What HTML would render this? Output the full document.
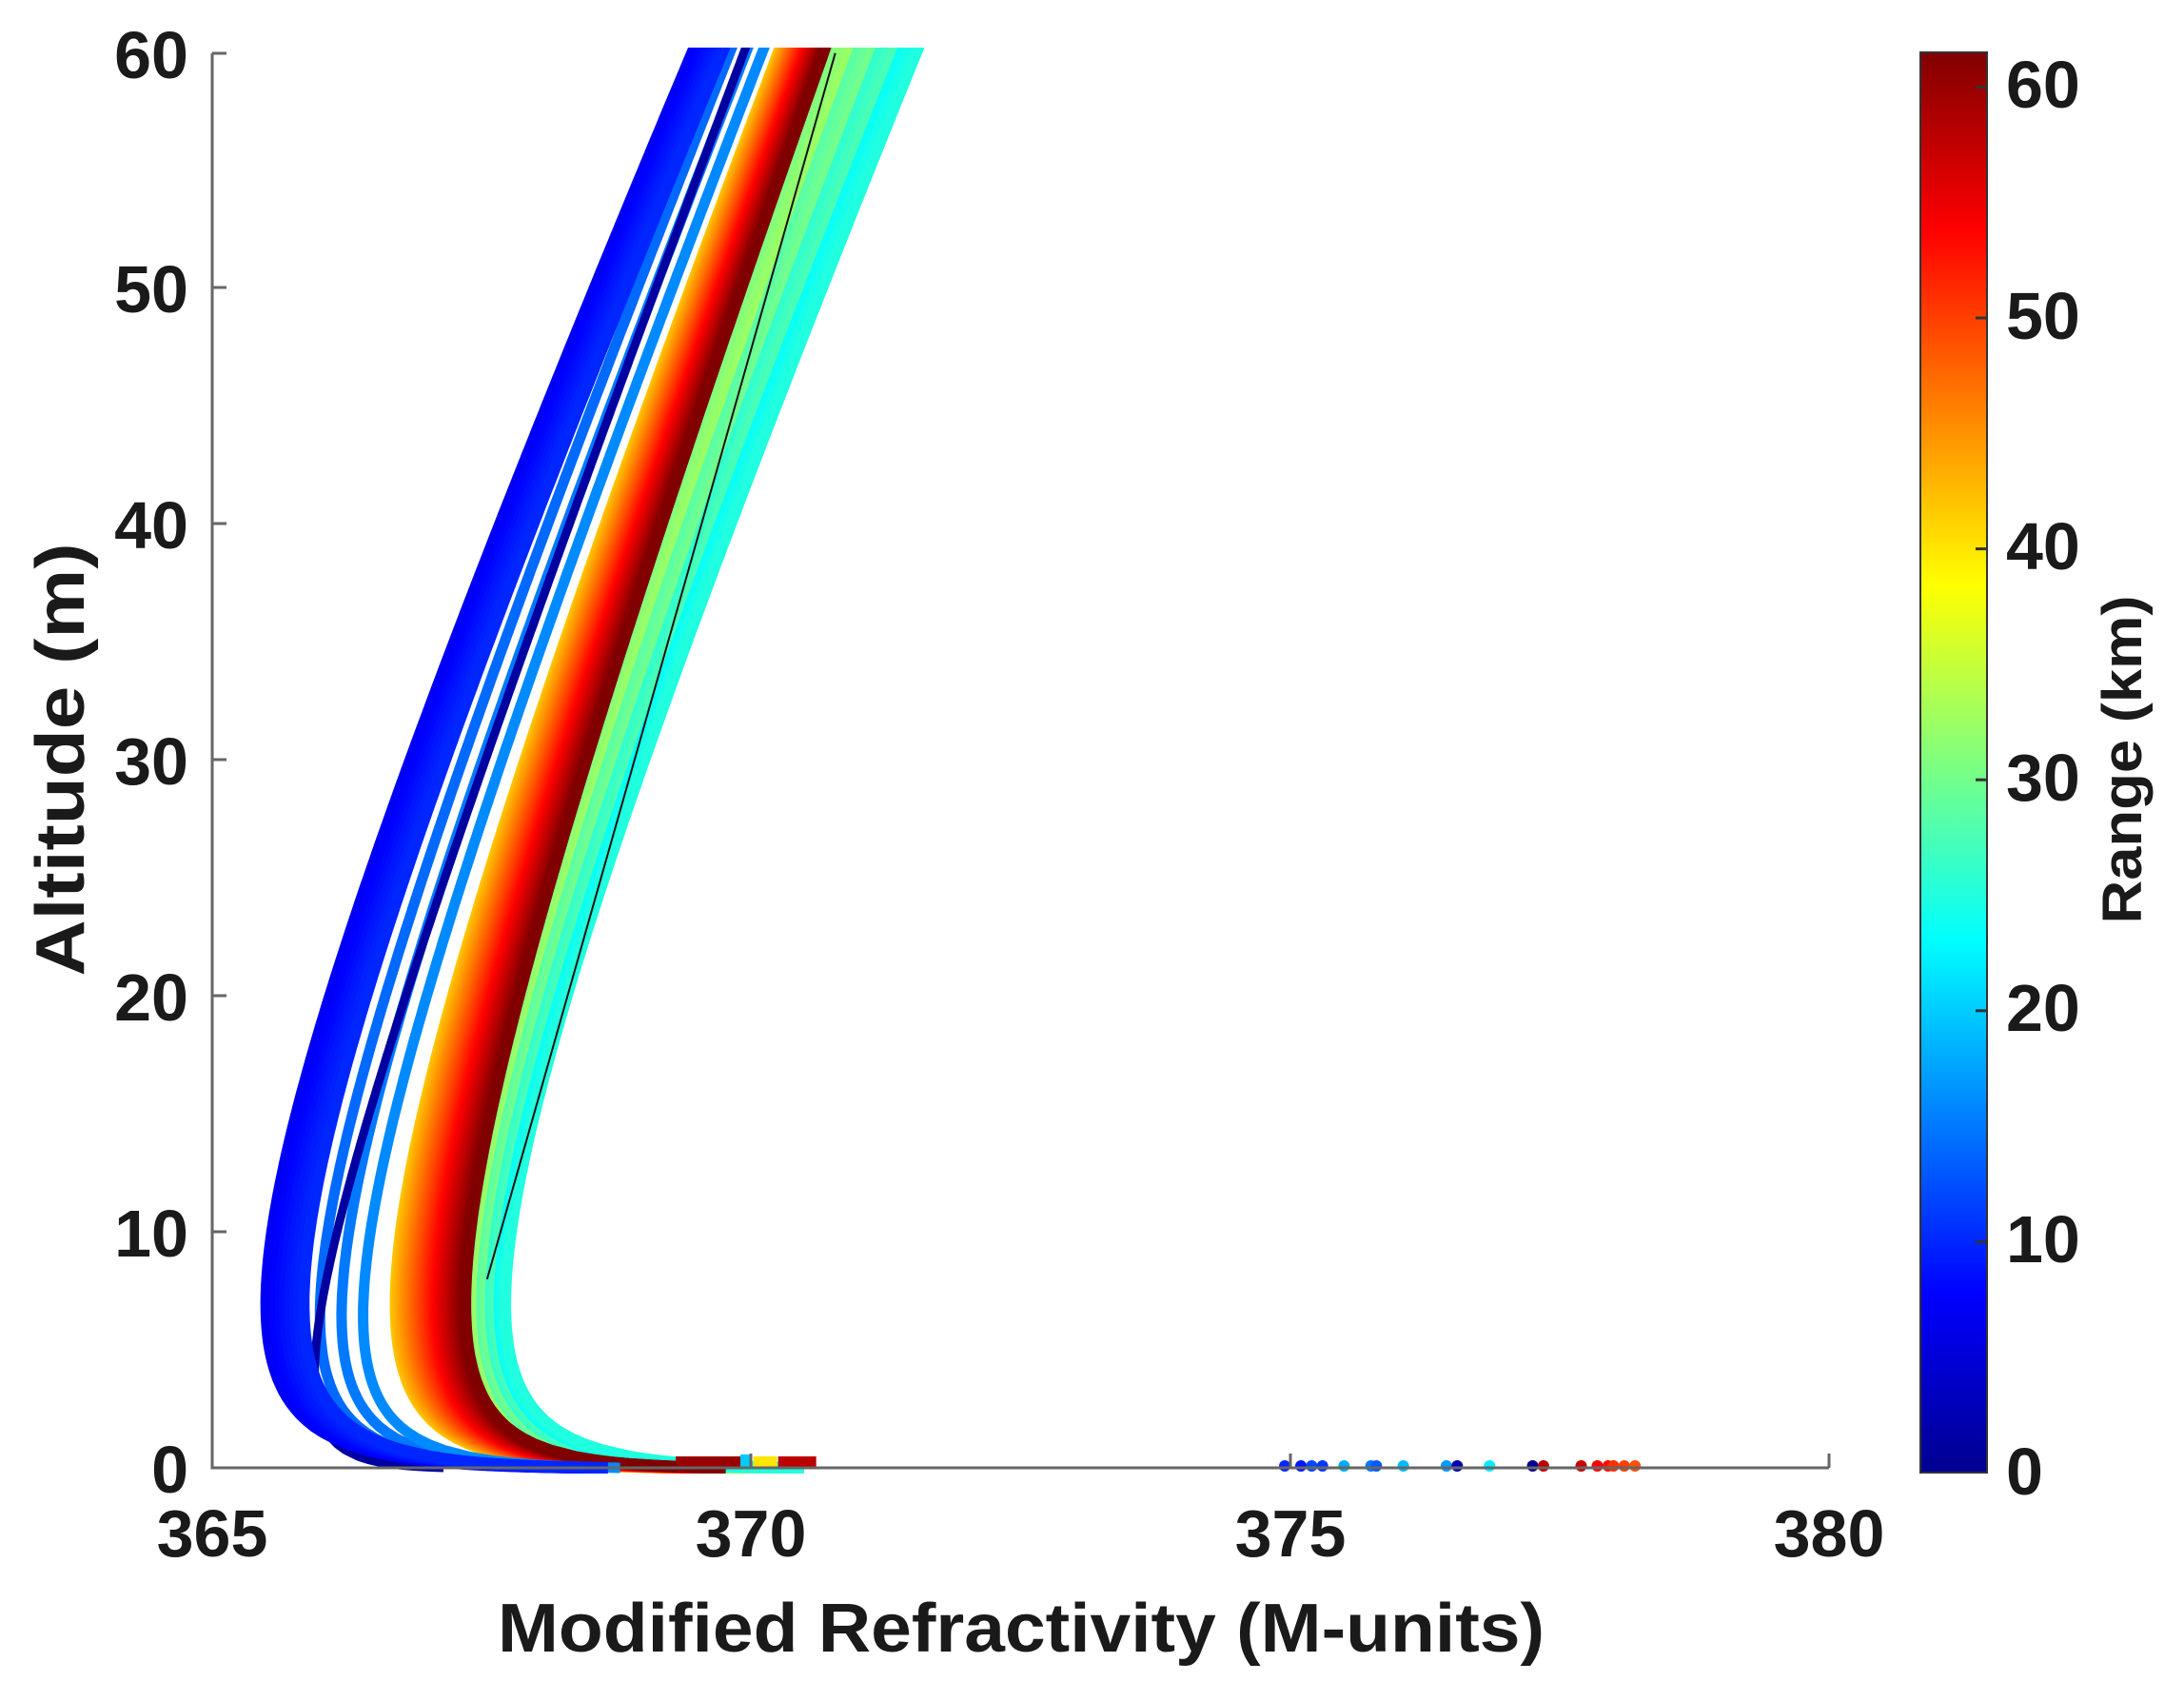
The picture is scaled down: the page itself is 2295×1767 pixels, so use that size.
<!DOCTYPE html>
<html><head><meta charset="utf-8"><style>
html,body{margin:0;padding:0;background:#fff}
svg{display:block}
text{font-family:"Liberation Sans",Arial,sans-serif;font-weight:bold;fill:#1a1a1a}
</style></head><body>
<svg id="s" width="2295" height="1767" viewBox="0 0 2295 1767" xmlns="http://www.w3.org/2000/svg">
<defs>
<linearGradient id="jet" x1="0" y1="1" x2="0" y2="0">
<stop offset="0" stop-color="#00008f"/>
<stop offset="0.125" stop-color="#0000ff"/>
<stop offset="0.375" stop-color="#00ffff"/>
<stop offset="0.625" stop-color="#ffff00"/>
<stop offset="0.875" stop-color="#ff0000"/>
<stop offset="1" stop-color="#800000"/>
</linearGradient>
<clipPath id="cp"><rect x="223" y="50" width="1700" height="1500"/></clipPath>
</defs>
<g id="curves" clip-path="url(#cp)"></g>
<g id="dots"></g>
<path d="M223,56 V1542 H1922" fill="none" stroke="#666" stroke-width="3"/>
<g stroke="#666" stroke-width="3">
<line x1="223" y1="56" x2="238" y2="56"/><line x1="223" y1="302" x2="238" y2="302"/>
<line x1="223" y1="550" x2="238" y2="550"/><line x1="223" y1="798" x2="238" y2="798"/>
<line x1="223" y1="1046" x2="238" y2="1046"/><line x1="223" y1="1294" x2="238" y2="1294"/>
<line x1="789" y1="1542" x2="789" y2="1527"/><line x1="1356" y1="1542" x2="1356" y2="1527"/>
<line x1="1922" y1="1542" x2="1922" y2="1527"/>
</g>
<g font-size="70" text-anchor="end">
<text x="198" y="82">60</text><text x="198" y="328">50</text><text x="198" y="576">40</text>
<text x="198" y="824">30</text><text x="198" y="1072">20</text><text x="198" y="1320">10</text>
<text x="198" y="1568">0</text>
</g>
<g font-size="70" text-anchor="middle">
<text x="223" y="1635">365</text><text x="789" y="1635">370</text>
<text x="1356" y="1635">375</text><text x="1922" y="1635">380</text>
</g>
<text x="1073" y="1735" font-size="72" text-anchor="middle" textLength="1100" lengthAdjust="spacingAndGlyphs">Modified Refractivity (M-units)</text>
<text transform="translate(88,798) rotate(-90)" font-size="72" text-anchor="middle" textLength="455" lengthAdjust="spacingAndGlyphs">Altitude (m)</text>
<rect x="2018" y="55" width="70" height="1492" fill="url(#jet)" stroke="#333" stroke-width="2"/>
<g stroke="#333" stroke-width="3" id="cbt"></g>
<g font-size="70">
<text x="2108" y="113">60</text><text x="2108" y="356">50</text><text x="2108" y="598">40</text>
<text x="2108" y="841">30</text><text x="2108" y="1083">20</text><text x="2108" y="1326">10</text>
<text x="2108" y="1570">0</text>
</g>
<text transform="translate(2250,798) rotate(-90)" font-size="58" text-anchor="middle" textLength="345" lengthAdjust="spacingAndGlyphs">Range (km)</text>
</svg>
<script>
function jet(v){
  var t=v/61.5, r,g,b;
  function cl(x){return Math.max(0,Math.min(1,x));}
  r=cl(Math.min(4*t-1.5,-4*t+4.5)); g=cl(Math.min(4*t-0.5,-4*t+3.5)); b=cl(Math.min(4*t+0.5,-4*t+2.5));
  return 'rgb('+Math.round(r*255)+','+Math.round(g*255)+','+Math.round(b*255)+')';
}
function X(m){return 223+(m-365)*113.27;}
function Y(z){return 1542-z*24.77;}
var curves=[];
function add(Mmin,Mtop,zm,v,w){curves.push([Mmin,Mtop,zm,v,w]);}
for(var i=0;i<12;i++){var f=i/11;add(367.42+f*0.3,370.78+f*0.75,7,31-f*9+(i%3)*1.5,12);}
for(var i=0;i<40;i++){var f=i/39;add(366.7+f*0.65,370.25+f*0.42,7,42+f*19.5,12);}
add(366.0,369.8,6.5,14,11);add(366.2,369.95,6.5,15,11);add(366.4,370.1,6.5,16,11);
add(365.95,369.93,4,2,9);
for(var i=0;i<9;i++){var f=i/8;add(365.5+f*0.35,369.45+f*0.28,7,7+f*3,12);}
var z0=0.05, g=document.getElementById('curves'), out='';
curves.forEach(function(c){
  var Mmin=c[0],Mtop=c[1],zm=c[2];
  var f60=(60-zm)-zm*Math.log((60+z0)/(zm+z0));
  var k=(Mtop-Mmin)/f60;
  var M0=Mmin+k*zm*(Math.log(1+zm/z0)-1);
  var d='';
  var zs=[];
  for(var z=0;z<0.5;z+=0.01)zs.push(z);
  for(var z=0.5;z<=60.5;z+=0.25)zs.push(z);
  zs.forEach(function(z,j){
    var m=M0+k*z-k*zm*Math.log(1+z/z0);
    d+=(j?'L':'M')+X(m).toFixed(1)+','+Y(z).toFixed(1);
  });
  out+='<path d="'+d+'" fill="none" stroke="'+jet(c[3])+'" stroke-width="'+c[4]+'"/>';
});
out+='<path d="M'+X(370.78)+','+Y(60)+' L'+X(367.55)+','+Y(8)+'" stroke="#111" stroke-width="2" fill="none"/>';
g.innerHTML=out;
var dots='',dv=[[374.95,10],[375.1,9],[375.2,12],[375.3,11],[375.5,18],[375.75,15],[375.8,13],[376.05,19],[376.45,17],[376.55,3],[376.85,22],[377.25,1],[377.35,58],[377.7,57],[377.85,54],[377.95,53],[378.0,51],[378.1,50],[378.2,49]];
dv.forEach(function(p){dots+='<circle cx="'+X(p[0])+'" cy="1540" r="6" fill="'+jet(p[1])+'"/>';});
dots+='<rect x="'+X(369.3)+'" y="1530" width="70" height="12" fill="'+jet(60)+'"/>';
dots+='<rect x="'+X(369.9)+'" y="1528" width="10" height="14" fill="'+jet(20)+'"/>';
dots+='<rect x="'+X(370.02)+'" y="1530" width="25" height="12" fill="'+jet(40)+'"/>';
dots+='<rect x="'+X(370.25)+'" y="1530" width="40" height="12" fill="'+jet(58)+'"/>';
document.getElementById('dots').innerHTML=dots;
var t='';for(var v=10;v<=60;v+=10){var y=1547-v*24.26;t+='<line x1="2076" y1="'+y+'" x2="2088" y2="'+y+'"/>';}
document.getElementById('cbt').innerHTML=t;
</script>
</body></html>
